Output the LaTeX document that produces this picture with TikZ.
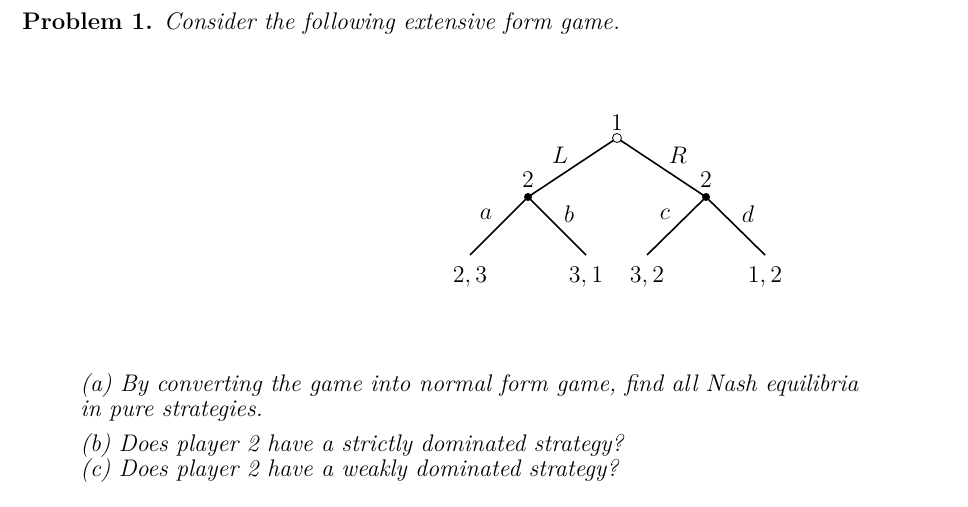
\documentclass[tikz,border=0pt]{standalone}
\begin{document}
\begin{tikzpicture}[x=0.5pt,y=-0.5pt,
  txt/.style={anchor=base west,inner sep=0,font=\large\itshape},
  lab/.style={inner sep=0,font=\large},
  br/.style={line width=0.8pt},
  dec/.style={circle,fill,inner sep=0,minimum size=4pt},
  root/.style={circle,draw,fill=white,inner sep=0,minimum size=4.5pt}]
\useasboundingbox (0,0) rectangle (968,507);
\node[txt] (t0) at (22,30) {\textbf{\upshape Problem 1.} Consider the following extensive form game.};
\coordinate (r) at (617,138);
\coordinate (n1) at (528,197);
\coordinate (n2) at (706,197);
\coordinate (l1) at (470,255);
\coordinate (l2) at (586,255);
\coordinate (l3) at (647,255);
\coordinate (l4) at (765,255);
\draw[br] (r) -- (n1) (r) -- (n2) (n1) -- (l1) (n1) -- (l2) (n2) -- (l3) (n2) -- (l4);
\node[root] (rn) at (r) {};
\node[dec] (d1) at (n1) {};
\node[dec] (d2) at (n2) {};
\node[lab] (p1) at (617,123) {1};
\node[lab] (p2) at (528,180) {2};
\node[lab] (p3) at (706,180) {2};
\node[lab] (L) at (560,155) {$L$};
\node[lab] (R) at (678,155) {$R$};
\node[lab] (a) at (486,214) {$a$};
\node[lab] (b) at (569,214) {$b$};
\node[lab] (c) at (665,214) {$c$};
\node[lab] (d) at (748,214) {$d$};
\node[lab] (u1) at (470,277) {$2,3$};
\node[lab] (u2) at (586,277) {$3,1$};
\node[lab] (u3) at (647,277) {$3,2$};
\node[lab] (u4) at (765,277) {$1,2$};
\node[txt] (qa) at (80,392) {(a) By converting the game into normal form game, find all Nash equilibria};
\node[txt] (qa2) at (80,416) {in pure strategies.};
\node[txt] (qb) at (80,451) {(b) Does player 2 have a strictly dominated strategy?};
\node[txt] (qc) at (80,476) {(c) Does player 2 have a weakly dominated strategy?};
\end{tikzpicture}
\end{document}
